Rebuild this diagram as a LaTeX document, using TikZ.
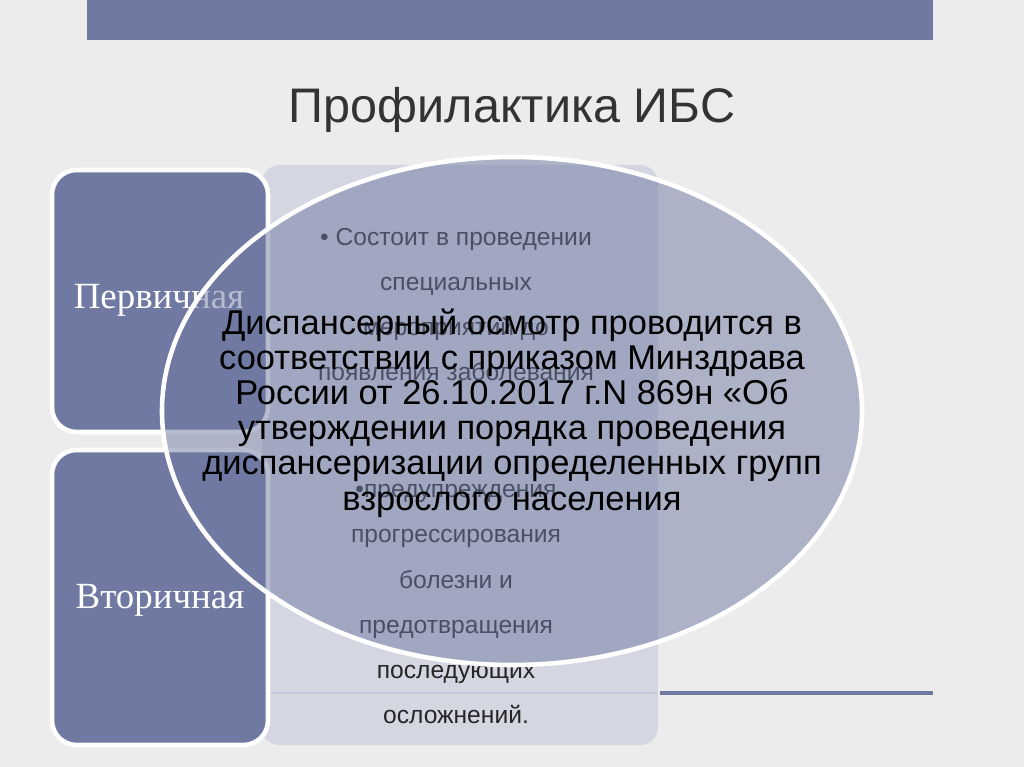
\documentclass[tikz,border=0pt]{standalone}
\usepackage{fontspec}
\setmainfont{Liberation Serif}
\setsansfont{Liberation Sans}
\definecolor{slate}{HTML}{6F79A2}
\definecolor{paper}{HTML}{ECECEC}
\definecolor{pale}{HTML}{D4D6E2}
\tikzset{
  levelbox/.style={fill=slate, draw=white, line width=1.3pt, rounded corners=7pt},
  levellabel/.style={text=white, font=\rmfamily\fontsize{10.5}{12}\selectfont},
  paneltext/.style={align=center, text=black!85, font=\sffamily\fontsize{7}{12.8}\selectfont},
}
\begin{document}
\begin{tikzpicture}[x=0.01cm,y=-0.01cm]
  % slide background
  \fill[paper] (0,0) rectangle (1024,767);
  \fill[slate] (87,0) rectangle (933,40);
  % title
  \node[font=\sffamily\fontsize{13.8}{16}\selectfont, text=black!80] (title) at (512,110) {Профилактика ИБС};
  % light panel behind the boxes
  \fill[pale, rounded corners=5pt] (262,165) rectangle (658,745);
  \draw[slate!40, line width=0.6pt] (268,693) -- (658,693);
  \draw[slate, line width=1.3pt] (660,693) -- (933,693);
  % panel texts
  \node[paneltext] (first) at (456,305) {• Состоит в проведении\\специальных\\мероприятий до\\появления заболевания};
  \node[paneltext] (second) at (456,604) {•предупреждения\\прогрессирования\\болезни и\\предотвращения\\последующих\\осложнений.};
  % levels
  \draw[levelbox] (52,170) rectangle (268,432);
  \node[levellabel] (primary) at (159,300) {Первичная};
  \draw[levelbox] (52,450) rectangle (268,745);
  \node[levellabel] (secondary) at (160,600) {Вторичная};
  % overlay ellipse
  \draw[white, line width=1.3pt, fill=slate, fill opacity=0.5] (512,411) ellipse [x radius=350, y radius=254];
  \node[align=center, text=black, font=\sffamily\fontsize{9.8}{10}\selectfont] (note) at (512,413)
    {Диспансерный осмотр проводится в\\соответствии с приказом Минздрава\\России от 26.10.2017 г.N 869н «Об\\утверждении порядка проведения\\диспансеризации определенных групп\\взрослого населения};
\end{tikzpicture}
\end{document}
